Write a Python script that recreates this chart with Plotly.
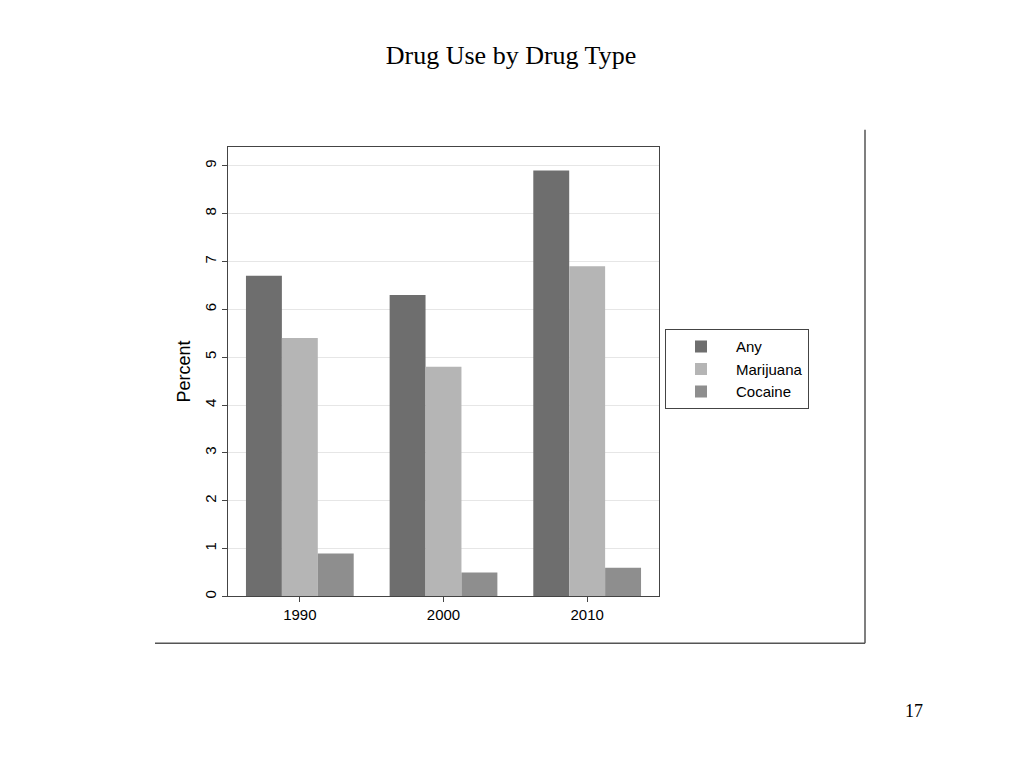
import plotly.graph_objects as go

years = ["1990", "2000", "2010"]
any_use = [6.7, 6.3, 8.9]
marijuana = [5.4, 4.8, 6.9]
cocaine = [0.9, 0.5, 0.6]

# the page body has an 8px margin, so shift everything by it
W, H = 1015, 767
def px(x): return (x - 8) / W
def py(y): return 1 - (y - 8) / H

fig = go.Figure()
fig.add_bar(x=years, y=any_use, name="Any", marker_color="#6e6e6e")
fig.add_bar(x=years, y=marijuana, name="Marijuana", marker_color="#b5b5b5")
fig.add_bar(x=years, y=cocaine, name="Cocaine", marker_color="#8e8e8e")
fig.update_traces(marker_line_width=0)

fig.update_layout(
    width=W, height=H, margin=dict(l=0, r=0, t=0, b=0),
    paper_bgcolor="white", plot_bgcolor="white",
    barmode="group", bargap=0.25, bargroupgap=0,
    font=dict(family="Liberation Sans, Arial", size=15, color="black"),
    title=dict(text="Drug Use by Drug Type", x=px(511), xanchor="center", y=py(55), yanchor="middle",
               font=dict(family="Liberation Serif, Times New Roman", size=26)),
    xaxis=dict(domain=[px(228), px(659)], showline=True, linecolor="#444", mirror=True,
               ticks="outside", ticklen=5, tickcolor="#444"),
    yaxis=dict(domain=[py(598), py(147)], range=[0, 9.4], dtick=1, showline=True, linecolor="#444",
               mirror=True, ticks="outside", ticklen=5, tickcolor="#444", tickangle=-90,
               gridcolor="#e6e6e6", zeroline=False,
               title=dict(text="Percent", standoff=6)),
    legend=dict(x=px(665), y=py(330), xanchor="left", yanchor="top", bordercolor="#444",
                borderwidth=1, font=dict(size=15), itemwidth=60),
    showlegend=True,
)
fig.add_shape(type="line", xref="paper", yref="paper", x0=px(865), x1=px(865), y0=py(130), y1=py(645),
              line=dict(color="#555", width=1.5))
fig.add_shape(type="line", xref="paper", yref="paper", x0=px(155), x1=px(865), y0=py(645), y1=py(645),
              line=dict(color="#555", width=1.5))
fig.add_annotation(text="17", xref="paper", yref="paper", x=px(925), y=py(725), showarrow=False,
                   font=dict(family="Liberation Serif, Times New Roman", size=18))
fig.write_html("out.html")
